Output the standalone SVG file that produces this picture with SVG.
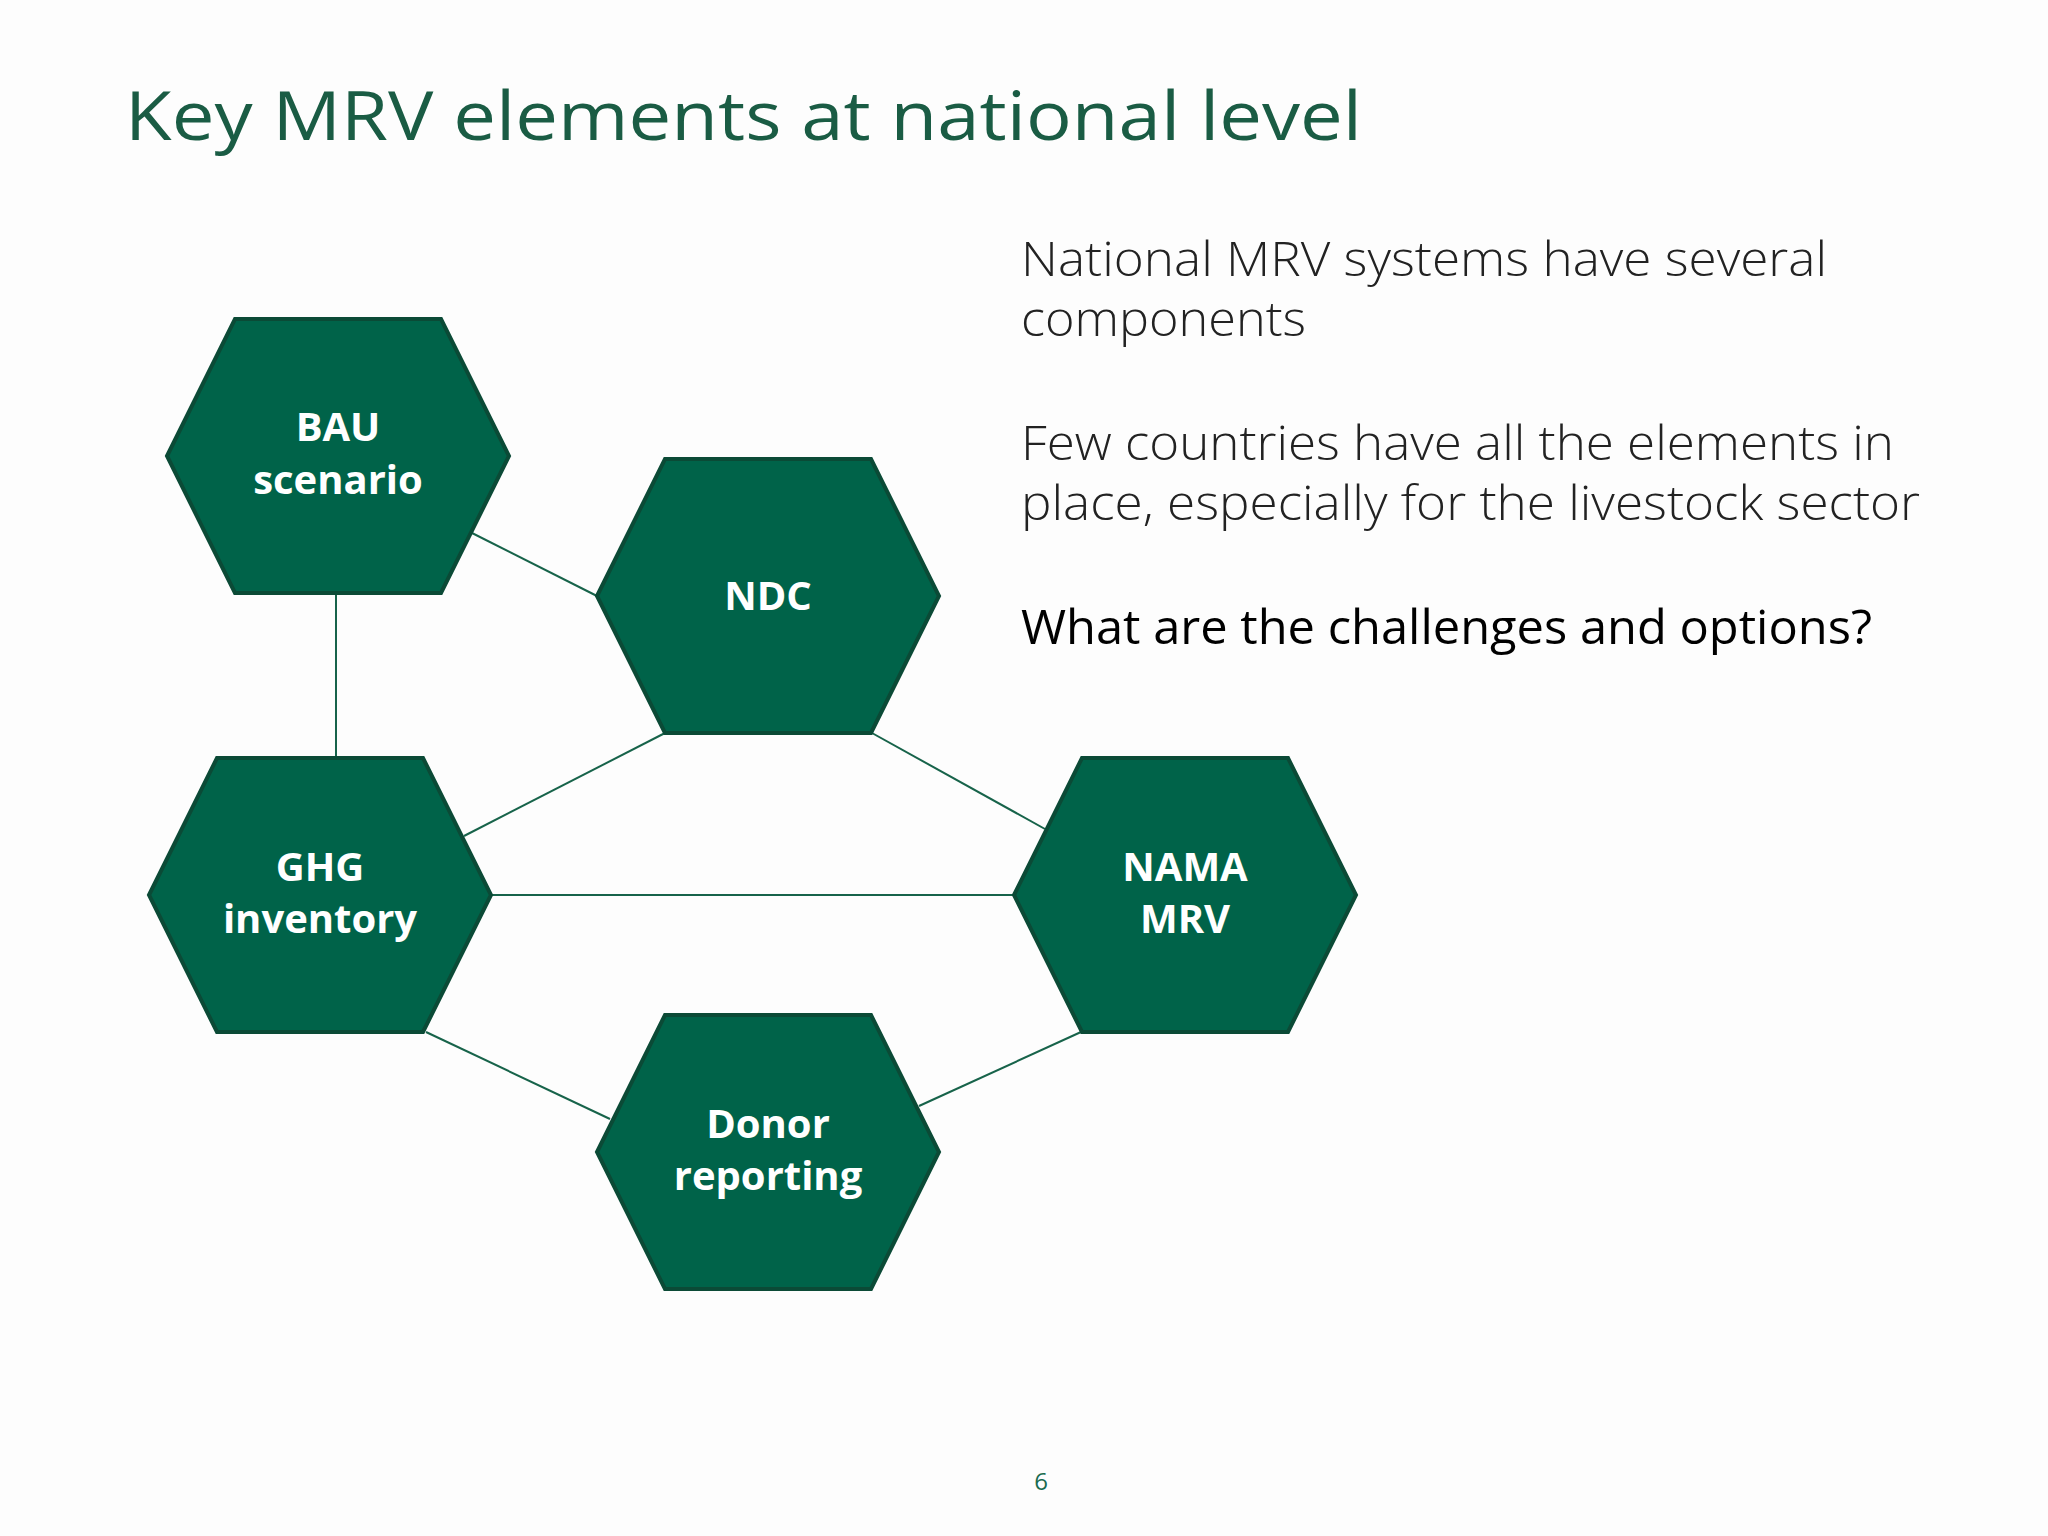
<svg xmlns="http://www.w3.org/2000/svg" width="2048" height="1536" viewBox="0 0 2048 1536">
<defs><style>
.hex{fill:#006349;stroke:#0b4a36;stroke-width:4}
.lbl{font-family:"Open Sans","Liberation Sans",sans-serif;font-weight:bold;font-size:40px;fill:#fff;text-anchor:middle}
.con line{stroke:#17634a;stroke-width:2}
.body{font-family:"Open Sans","Liberation Sans",sans-serif;font-weight:300;font-size:48px;fill:#222}
</style>
<polygon id="hx" class="hex" points="-171,0 -103,-137 103,-137 171,0 103,137 -103,137"/></defs>
<rect width="2048" height="1536" fill="#fdfdfd"/>
<text x="125" y="140" font-family="Open Sans,Liberation Sans,sans-serif" font-size="68" fill="#1a5c44" textLength="1237" lengthAdjust="spacingAndGlyphs">Key MRV elements at national level</text>
<g class="con">
<line x1="470" y1="532" x2="597" y2="596"/>
<line x1="336" y1="592" x2="336" y2="757"/>
<line x1="665" y1="733" x2="464" y2="836"/>
<line x1="872" y1="733" x2="1045" y2="829"/>
<line x1="492" y1="895" x2="1013" y2="895"/>
<line x1="426" y1="1032" x2="610" y2="1119"/>
<line x1="1081" y1="1032" x2="919" y2="1106"/>
</g>
<g id="bau"><use href="#hx" x="338" y="456"/><text class="lbl" x="338" y="441">BAU</text><text class="lbl" x="338" y="494">scenario</text></g>
<g id="ndc"><use href="#hx" x="768" y="596"/><text class="lbl" x="768" y="610">NDC</text></g>
<g id="ghg"><use href="#hx" x="320" y="895"/><text class="lbl" x="320" y="881">GHG</text><text class="lbl" x="320" y="933">inventory</text></g>
<g id="nama"><use href="#hx" x="1185" y="895"/><text class="lbl" x="1185" y="881">NAMA</text><text class="lbl" x="1185" y="933">MRV</text></g>
<g id="donor"><use href="#hx" x="768" y="1152"/><text class="lbl" x="768" y="1138">Donor</text><text class="lbl" x="768" y="1190">reporting</text></g>
<text class="body" x="1021" y="276" textLength="806" lengthAdjust="spacingAndGlyphs">National MRV systems have several</text>
<text class="body" x="1021" y="336" textLength="285" lengthAdjust="spacingAndGlyphs">components</text>
<text class="body" x="1021" y="460" textLength="873" lengthAdjust="spacingAndGlyphs">Few countries have all the elements in</text>
<text class="body" x="1021" y="520" textLength="899" lengthAdjust="spacingAndGlyphs">place, especially for the livestock sector</text>
<text class="body" x="1021" y="644" style="font-weight:normal;fill:#000" textLength="851" lengthAdjust="spacingAndGlyphs">What are the challenges and options?</text>
<text x="1041" y="1490" font-family="Open Sans,Liberation Sans,sans-serif" font-size="24" fill="#1a6b50" text-anchor="middle">6</text>
</svg>
